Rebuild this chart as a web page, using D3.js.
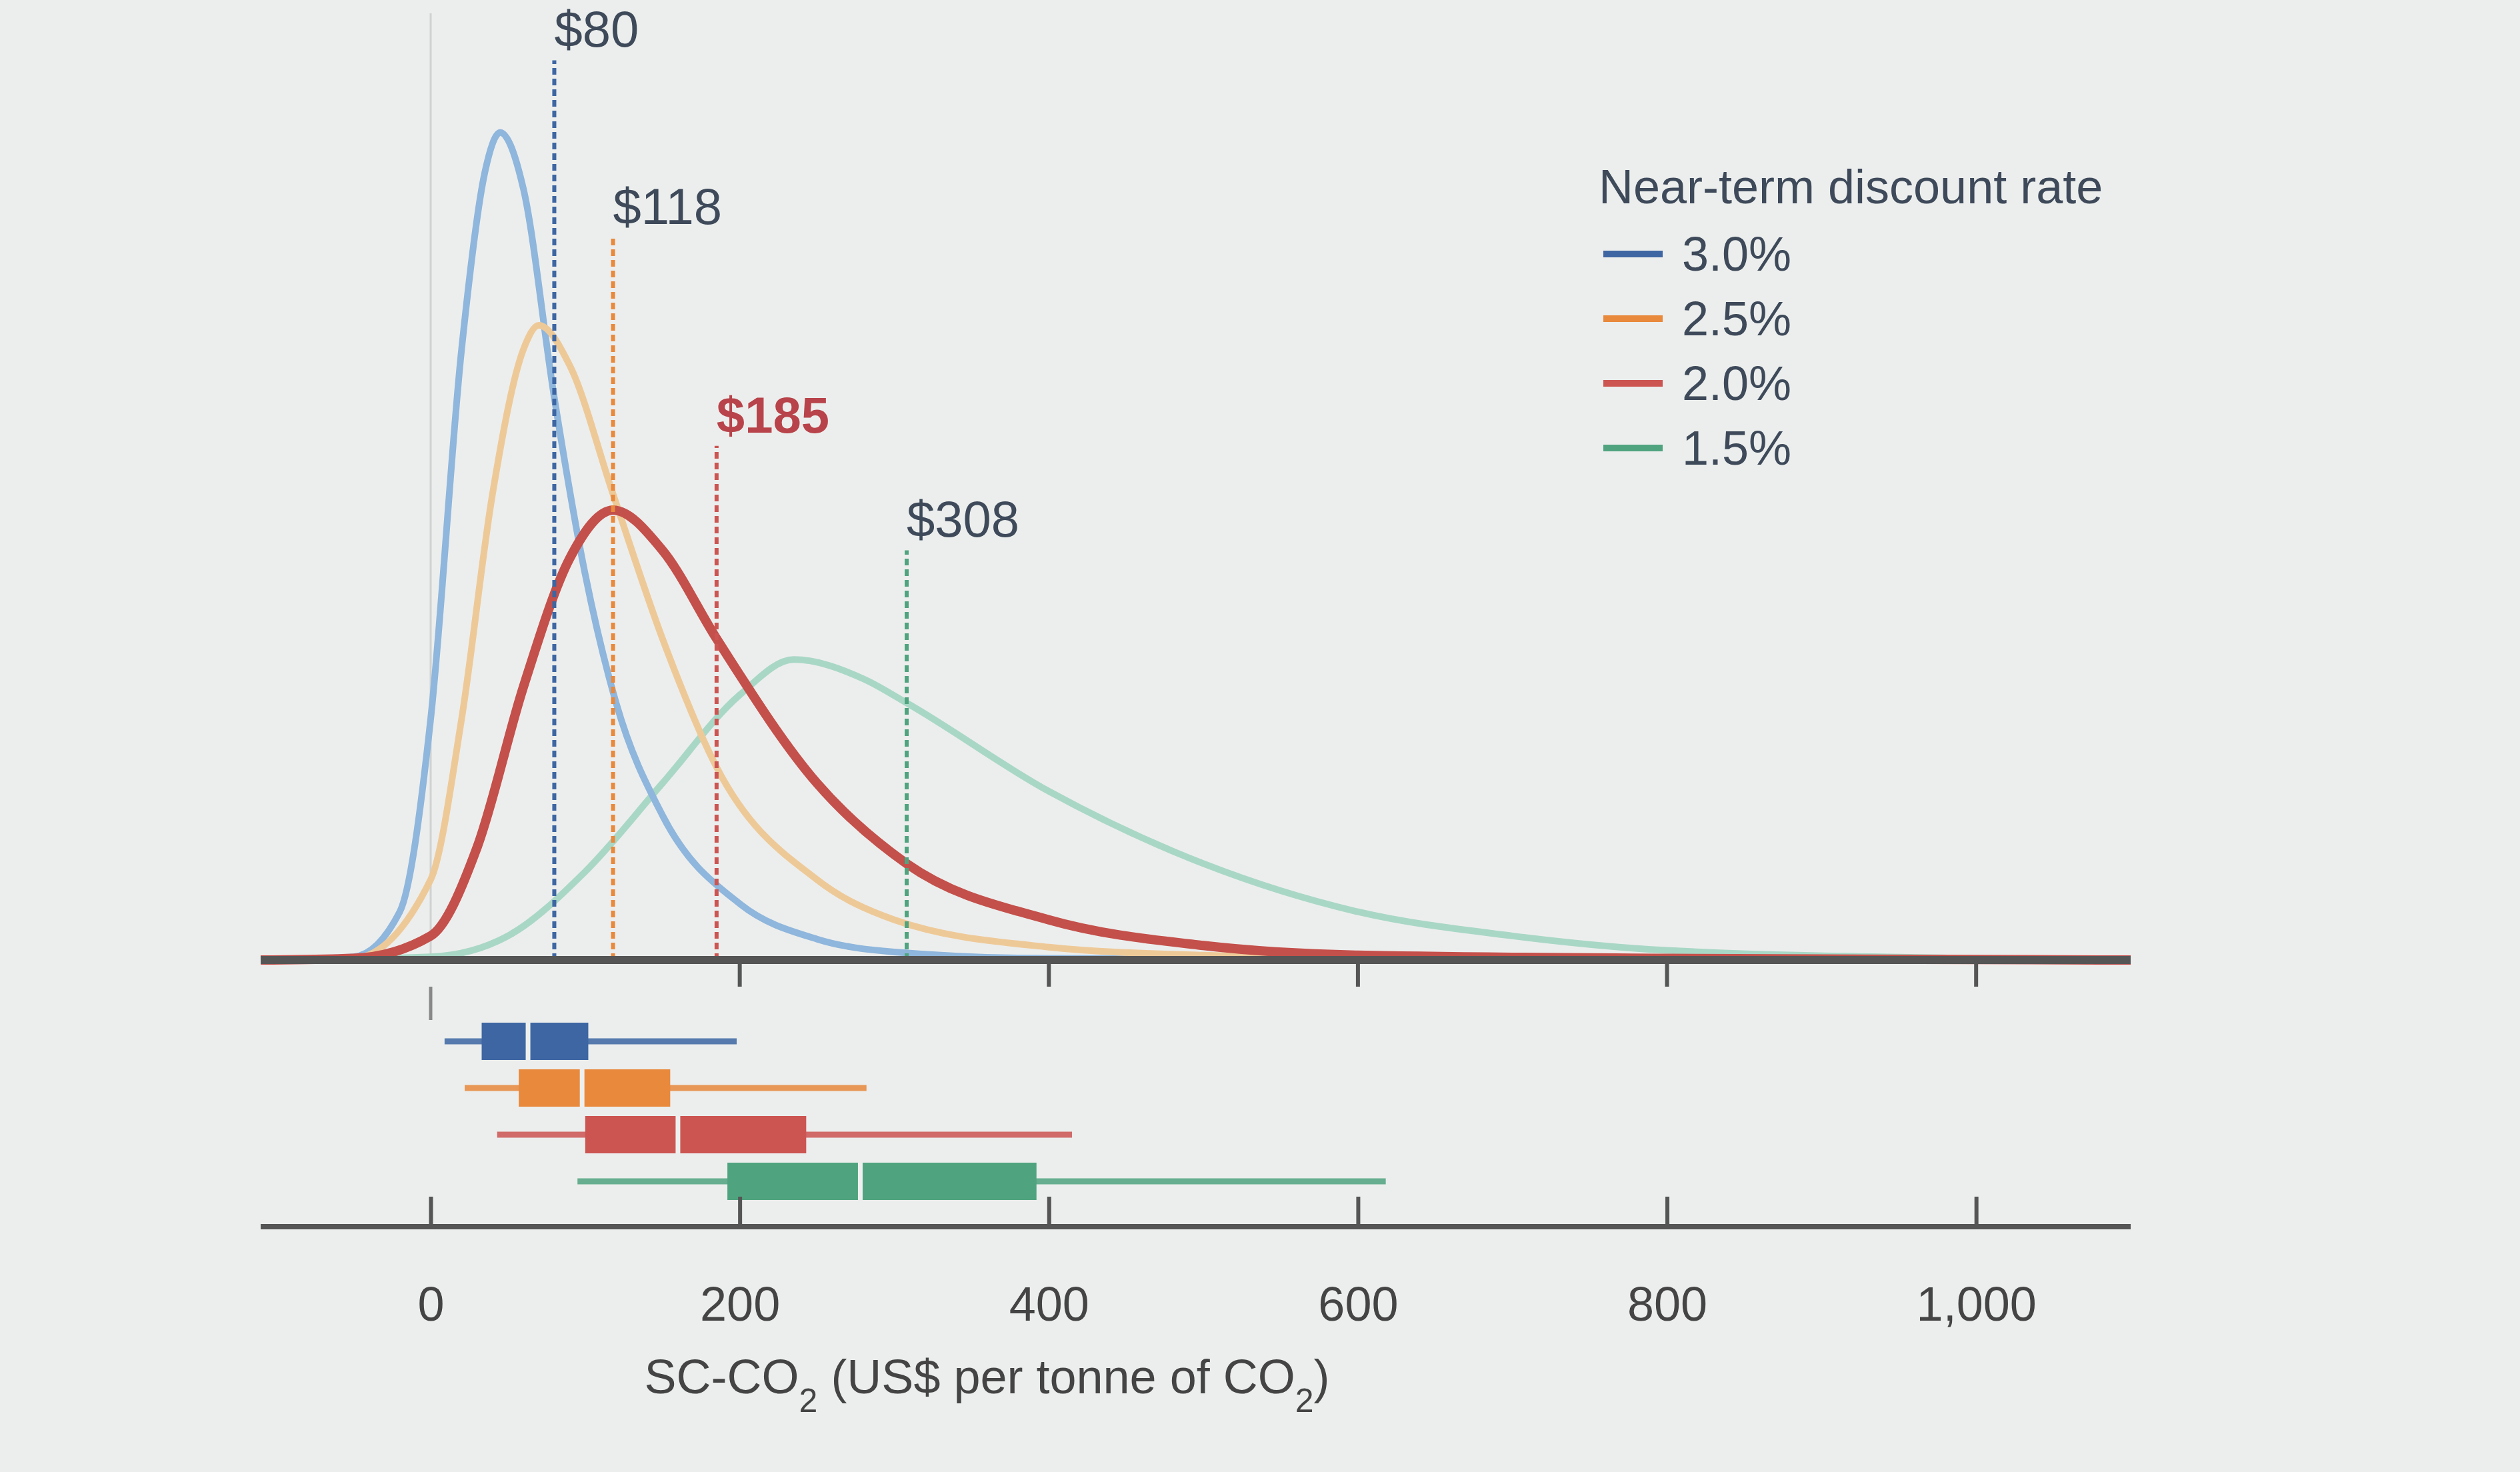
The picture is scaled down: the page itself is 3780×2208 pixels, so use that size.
<!DOCTYPE html>
<html><head><meta charset="utf-8">
<script src="https://cdn.jsdelivr.net/npm/d3@7"></script>
<style>body{margin:0;background:#eceeed}svg{display:block}</style>
</head><body>
<svg id="c" width="3780" height="2208"></svg>
<script>
const seriesNames=["3.0%","2.5%","2.0%","1.5%"];
const curveColors=["#8fb6dc","#eec998","#c4504b","#a9d7c6"];
const strongColors=["#3d66a3","#e8893c","#cc5552","#4fa47f"];
const means=[80,118,185,308];
const meanLabels=["$80","$118","$185","$308"];
const meanHeights=[5.6,4.5,3.2,2.55];
const blue=[[-110,0],[-50,0.02],[-20,0.3],[0,1.5],[20,3.8],[35,4.9],[45,5.15],[60,4.8],[80,3.5],[100,2.4],[120,1.6],[150,0.9],[200,0.35],[250,0.13],[300,0.05],[400,0.01],[1100,0]];
const orange=[[-110,0],[-50,0.01],[0,0.5],[20,1.5],[40,2.9],[60,3.8],[70,3.95],[90,3.7],[118,2.9],[150,2.0],[185,1.2],[250,0.5],[300,0.25],[400,0.08],[500,0.03],[700,0],[1100,0]];
const red=[[-110,0],[-50,0.01],[0,0.15],[30,0.7],[60,1.7],[90,2.5],[118,2.8],[150,2.55],[185,2.0],[250,1.1],[308,0.6],[400,0.25],[500,0.09],[600,0.03],[800,0.01],[1100,0]];
const green=[[-110,0],[0,0.02],[50,0.15],[100,0.55],[150,1.1],[200,1.65],[235,1.87],[280,1.75],[308,1.6],[400,1.05],[500,0.6],[600,0.3],[700,0.15],[800,0.06],[1000,0.01],[1100,0]];
const curves=[blue,orange,red,green];
// box stats: [whiskerLow, q1, median, q3, whiskerHigh]
const boxes=[[9,33,63,102,198],[22,57,98,155,282],[43,100,160,243,415],[95,192,278,392,618]];
const ticks=[0,200,400,600,800,1000];
const tickLabels=["0","200","400","600","800","1,000"];

const svg=d3.select("#c");
const x=d3.scaleLinear().domain([-110,1100]).range([391,3196]);
const y=d3.scaleLinear().domain([0,6]).range([1440,1440-6*241]);
const base=1440, bottom=1840;
const font="Liberation Sans, Arial, sans-serif";

// vertical left guide
svg.append("line").attr("x1",x(0)).attr("x2",x(0)).attr("y1",20).attr("y2",base).attr("stroke","#cfd2d1").attr("stroke-width",3);

// curves (background ones first, red on top)
const line=d3.line().x(d=>x(d[0])).y(d=>y(d[1])).curve(d3.curveMonotoneX);
[3,0,1,2].forEach(i=>{
  svg.append("path").attr("d",line(curves[i])).attr("fill","none")
    .attr("stroke",curveColors[i]).attr("stroke-width",i==2?14:10);
});
// mean dashed lines
means.forEach((m,i)=>{
  svg.append("line").attr("x1",x(m)).attr("x2",x(m)).attr("y1",base).attr("y2",y(meanHeights[i]))
    .attr("stroke",strongColors[i]).attr("stroke-width",6).attr("stroke-dasharray","10,6");
  svg.append("text").attr("x",x(m)).attr("y",y(meanHeights[i])-20).text(meanLabels[i])
    .attr("font-family",font).attr("font-size",76).attr("fill",i==2?"#b8434a":"#3e4a5a").attr("font-weight",i==2?"bold":"normal");
});
// top axis
svg.append("line").attr("x1",x(-110)).attr("x2",x(1100)).attr("y1",base).attr("y2",base).attr("stroke","#555").attr("stroke-width",12);
ticks.slice(1).forEach(t=>svg.append("line").attr("x1",x(t)).attr("x2",x(t)).attr("y1",base).attr("y2",base+40).attr("stroke","#555").attr("stroke-width",6));
svg.append("line").attr("x1",x(0)).attr("x2",x(0)).attr("y1",base+40).attr("y2",base+90).attr("stroke","#888").attr("stroke-width",5);

// boxplots
const rowY=[1562,1632,1702,1772];
boxes.forEach((b,i)=>{
  const g=svg.append("g");
  g.append("line").attr("x1",x(b[0])).attr("x2",x(b[4])).attr("y1",rowY[i]).attr("y2",rowY[i]).attr("stroke",strongColors[i]).attr("stroke-width",9).attr("opacity",0.85);
  g.append("rect").attr("x",x(b[1])).attr("width",x(b[3])-x(b[1])).attr("y",rowY[i]-28).attr("height",56).attr("fill",strongColors[i]);
  g.append("line").attr("x1",x(b[2])).attr("x2",x(b[2])).attr("y1",rowY[i]-28).attr("y2",rowY[i]+28).attr("stroke","#eef0ef").attr("stroke-width",7);
});
// bottom axis
const ax=svg.append("g").attr("transform",`translate(0,${bottom})`).call(d3.axisBottom(x).tickValues(ticks).tickFormat((d,i)=>tickLabels[i]).tickSize(-45).tickPadding(90));
ax.select(".domain").attr("stroke","#555").attr("stroke-width",8).attr("d",`M${x(-110)},0H${x(1100)}`);
ax.selectAll(".tick line").attr("stroke","#555").attr("stroke-width",6);
ax.selectAll("text").attr("font-family",font).attr("font-size",72).attr("fill","#444");
svg.append("text").attr("x",x(360)).attr("y",2090).attr("text-anchor","middle").attr("font-family",font).attr("font-size",72).attr("fill","#444")
  .html('SC-CO<tspan baseline-shift="sub" font-size="50">2</tspan> (US$ per tonne of CO<tspan baseline-shift="sub" font-size="50">2</tspan>)');

// legend
svg.append("text").attr("x",2398).attr("y",305).text("Near-term discount rate").attr("font-family",font).attr("font-size",72).attr("fill","#3e4a5a");
seriesNames.forEach((s,i)=>{
  const yy=381+i*97;
  svg.append("line").attr("x1",2405).attr("x2",2494).attr("y1",yy).attr("y2",yy).attr("stroke",strongColors[i]).attr("stroke-width",10);
  svg.append("text").attr("x",2523).attr("y",yy+25).text(s).attr("font-family",font).attr("font-size",72).attr("fill","#3e4a5a");
});
</script>
</body></html>
